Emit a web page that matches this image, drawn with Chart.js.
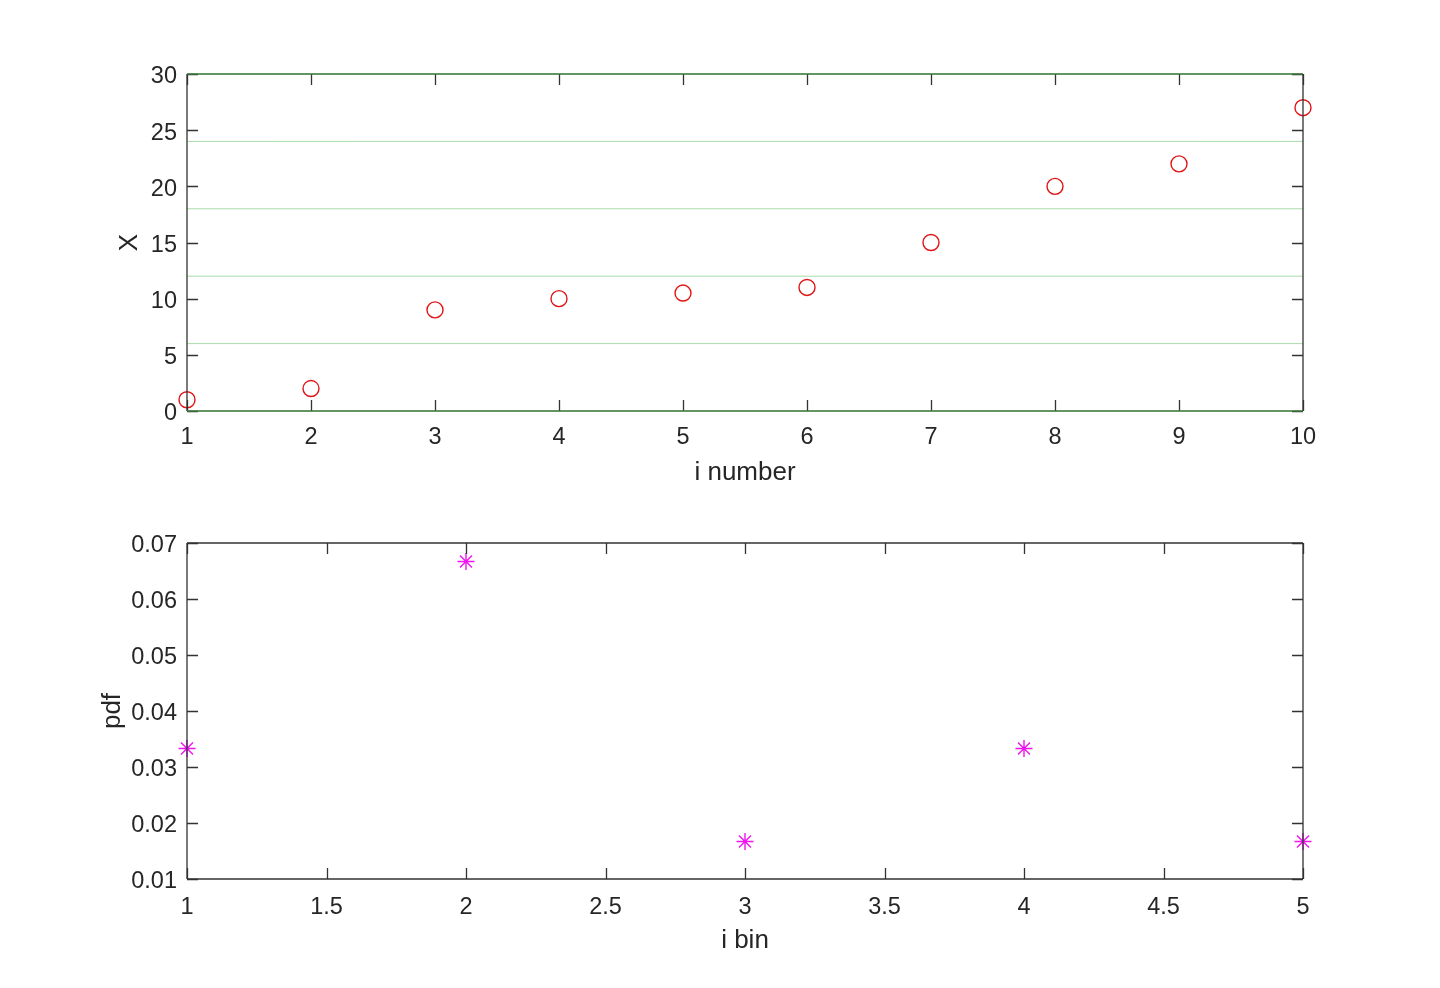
<!DOCTYPE html>
<html>
<head>
<meta charset="utf-8">
<script src="https://cdn.jsdelivr.net/npm/chart.js@4"></script>
<style>
  html, body { margin: 0; padding: 0; background: #ffffff; }
  #wrap { position: relative; width: 1440px; height: 988px; }
  .cv { position: absolute; left: 0; width: 1440px; height: 494px; }
  #c1 { top: 0; }
  #c2 { top: 494px; }
</style>
</head>
<body>
<div id="wrap">
  <div class="cv" id="c1"><canvas id="chart1"></canvas></div>
  <div class="cv" id="c2"><canvas id="chart2"></canvas></div>
</div>
<script>
// ---------- data ----------
const iNumber = [1, 2, 3, 4, 5, 6, 7, 8, 9, 10];
const xValues = [1, 2, 9, 10, 10.5, 11, 15, 20, 22, 27];
const binEdges = [0, 6, 12, 18, 24, 30];

const iBin = [1, 2, 3, 4, 5];
const pdfValues = [0.0333, 0.0667, 0.0167, 0.0333, 0.0167];

const topXTicks = [1, 2, 3, 4, 5, 6, 7, 8, 9, 10];
const topYTicks = [0, 5, 10, 15, 20, 25, 30];
const botXTicks = [1, 1.5, 2, 2.5, 3, 3.5, 4, 4.5, 5];
const botYTicks = [0.01, 0.02, 0.03, 0.04, 0.05, 0.06, 0.07];

// ---------- styling ----------
const FONT = '"Liberation Sans", Arial, Helvetica, sans-serif';
const TXT = '#262626';
const TICK_SIZE = 23.5;
const TITLE_SIZE = 26;
Chart.defaults.font.family = FONT;
Chart.defaults.color = TXT;

// Box with inward ticks on all four sides (MATLAB style)
const boxPlugin = {
  id: 'box',
  afterDraw(chart, args, opts) {
    const { ctx, chartArea: a, scales } = chart;
    const xs = scales.x, ys = scales.y;
    const tl = 11;
    ctx.save();
    ctx.lineWidth = 1.3;
    ctx.strokeStyle = opts.axisColor || TXT;
    ctx.beginPath();
    (opts.xTicks || []).forEach(v => {
      const px = Math.round(xs.getPixelForValue(v)) + 0.5;
      ctx.moveTo(px, a.bottom); ctx.lineTo(px, a.bottom - tl);
      ctx.moveTo(px, a.top); ctx.lineTo(px, a.top + tl);
    });
    (opts.yTicks || []).forEach(v => {
      const py = Math.round(ys.getPixelForValue(v)) + 0.5;
      ctx.moveTo(a.left, py); ctx.lineTo(a.left + tl, py);
      ctx.moveTo(a.right, py); ctx.lineTo(a.right - tl, py);
    });
    ctx.stroke();
    ctx.beginPath();
    ctx.moveTo(a.left, a.top); ctx.lineTo(a.left, a.bottom);
    ctx.moveTo(a.right, a.top); ctx.lineTo(a.right, a.bottom);
    ctx.stroke();
    ctx.strokeStyle = opts.hColor || TXT;
    ctx.beginPath();
    ctx.moveTo(a.left, a.top); ctx.lineTo(a.right, a.top);
    ctx.moveTo(a.left, a.bottom); ctx.lineTo(a.right, a.bottom);
    ctx.stroke();
    ctx.restore();
  }
};

function fixedFit(size, isX) {
  return function (scale) {
    if (isX) scale.height = size; else scale.width = size;
  };
}

function fmt(v) { return String(+Number(v).toFixed(4)); }

// ---------- top chart ----------
const edgeDatasets = binEdges.map(e => ({
  type: 'line',
  data: [{ x: iNumber[0], y: e }, { x: iNumber[iNumber.length - 1], y: e }],
  borderColor: '#a8dca8',
  borderWidth: 1,
  pointRadius: 0,
  showLine: true,
  fill: false,
  clip: false
}));

new Chart(document.getElementById('chart1'), {
  type: 'scatter',
  data: {
    datasets: [
      ...edgeDatasets,
      {
        data: iNumber.map((x, i) => ({ x, y: xValues[i] })),
        pointStyle: 'circle',
        pointRadius: 8,
        pointBorderWidth: 1.4,
        borderColor: '#e01414',
        backgroundColor: 'rgba(0,0,0,0)',
        clip: false
      }
    ]
  },
  options: {
    responsive: true,
    maintainAspectRatio: false,
    animation: false,
    events: [],
    layout: { padding: { top: 74, right: 137, left: 0, bottom: 0 } },
    plugins: {
      legend: { display: false },
      tooltip: { enabled: false },
      box: { xTicks: topXTicks, yTicks: topYTicks, hColor: '#3f7a3f', axisColor: '#333333' }
    },
    scales: {
      x: {
        type: 'linear', min: 1, max: 10,
        afterFit: fixedFit(83, true),
        afterBuildTicks: s => { s.ticks = topXTicks.map(v => ({ value: v })); },
        grid: { display: false, drawTicks: false },
        border: { display: false },
        ticks: { padding: 12, font: { size: TICK_SIZE }, color: TXT, callback: fmt, maxRotation: 0, autoSkip: false },
        title: { display: true, text: 'i number', font: { size: TITLE_SIZE }, color: TXT, padding: { top: 0, bottom: 6 } }
      },
      y: {
        type: 'linear', min: 0, max: 30,
        afterFit: fixedFit(187, false),
        afterBuildTicks: s => { s.ticks = topYTicks.map(v => ({ value: v })); },
        grid: { display: false, drawTicks: false },
        border: { display: false },
        ticks: { padding: 10, labelOffset: 3, font: { size: TICK_SIZE }, color: TXT, callback: fmt, autoSkip: false },
        title: { display: true, text: 'X', font: { size: TITLE_SIZE }, color: TXT, padding: { top: 114, bottom: 0 } }
      }
    }
  },
  plugins: [boxPlugin]
});

// ---------- bottom chart ----------
new Chart(document.getElementById('chart2'), {
  type: 'scatter',
  data: {
    datasets: [
      {
        data: iBin.map((x, i) => ({ x, y: pdfValues[i] })),
        pointStyle: 'star',
        pointRadius: 8.5,
        pointBorderWidth: 1.4,
        borderColor: '#f014f0',
        backgroundColor: '#f014f0',
        clip: false
      }
    ]
  },
  options: {
    responsive: true,
    maintainAspectRatio: false,
    animation: false,
    events: [],
    layout: { padding: { top: 49, right: 137, left: 0, bottom: 0 } },
    plugins: {
      legend: { display: false },
      tooltip: { enabled: false },
      box: { xTicks: botXTicks, yTicks: botYTicks, hColor: '#333333', axisColor: '#333333' }
    },
    scales: {
      x: {
        type: 'linear', min: 1, max: 5,
        afterFit: fixedFit(109, true),
        afterBuildTicks: s => { s.ticks = botXTicks.map(v => ({ value: v })); },
        grid: { display: false, drawTicks: false },
        border: { display: false },
        ticks: { padding: 14, font: { size: TICK_SIZE }, color: TXT, callback: fmt, maxRotation: 0, autoSkip: false },
        title: { display: true, text: 'i bin', font: { size: TITLE_SIZE }, color: TXT, padding: { top: 0, bottom: 32 } }
      },
      y: {
        type: 'linear', min: 0.01, max: 0.07,
        afterFit: fixedFit(187, false),
        afterBuildTicks: s => { s.ticks = botYTicks.map(v => ({ value: v })); },
        grid: { display: false, drawTicks: false },
        border: { display: false },
        ticks: { padding: 10, labelOffset: 3, font: { size: TICK_SIZE }, color: TXT, callback: fmt, autoSkip: false },
        title: { display: true, text: 'pdf', font: { size: TITLE_SIZE }, color: TXT, padding: { top: 97, bottom: 0 } }
      }
    }
  },
  plugins: [boxPlugin]
});
</script>
</body>
</html>
